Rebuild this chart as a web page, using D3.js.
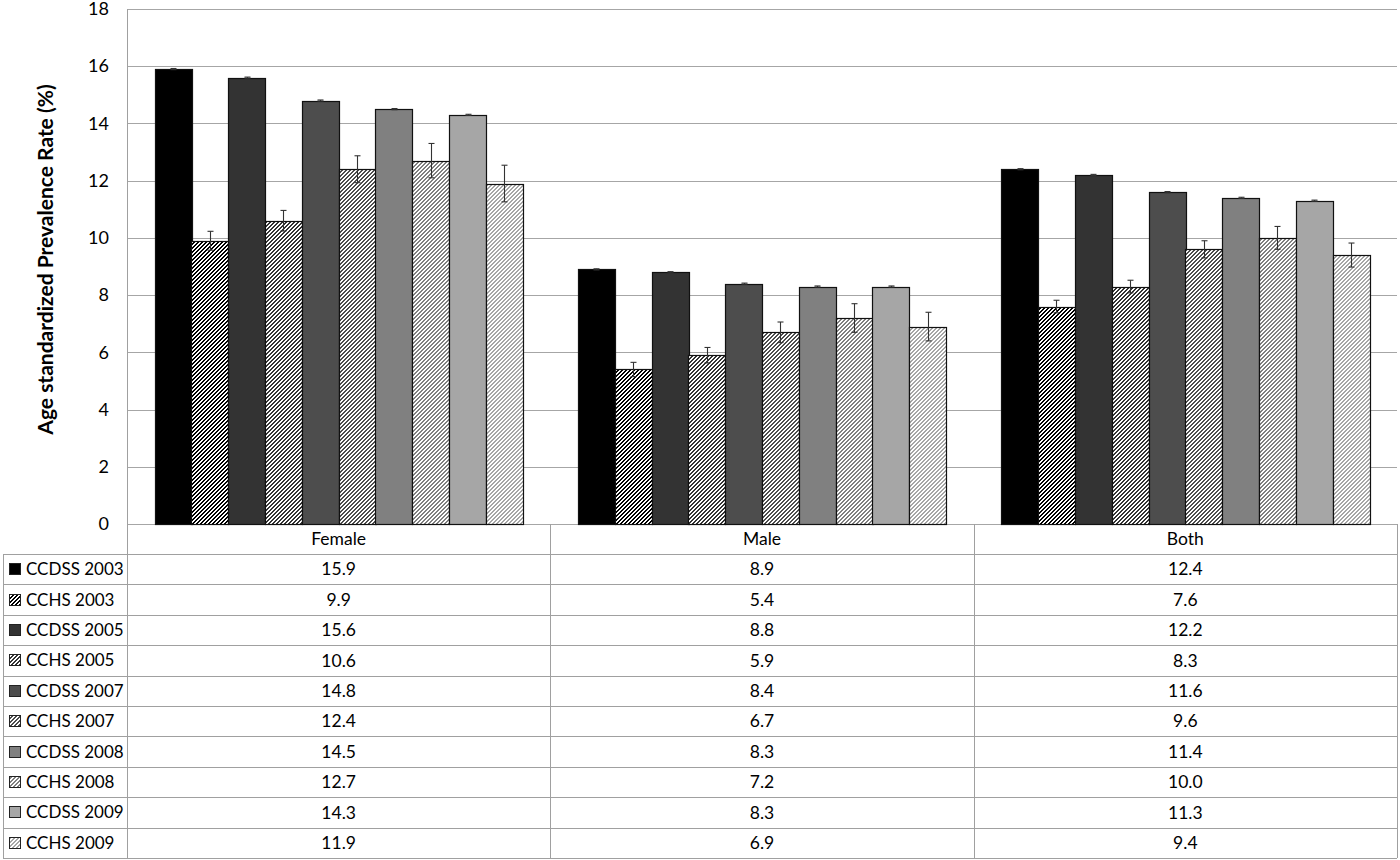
<!DOCTYPE html>
<html>
<head>
<meta charset="utf-8">
<script src="https://cdn.jsdelivr.net/npm/d3@7"></script>
<style>
  body { margin: 0; background: #fff; }
  text { font-family: Lato, "Open Sans", sans-serif; fill: #000; }
</style>
</head>
<body>
<div id="chart"></div>
<script>
// Chart data
const categories = ["Female", "Male", "Both"];
const seriesNames = ["CCDSS 2003", "CCHS 2003", "CCDSS 2005", "CCHS 2005", "CCDSS 2007",
                     "CCHS 2007", "CCDSS 2008", "CCHS 2008", "CCDSS 2009", "CCHS 2009"];
// one array per series: Female, Male, Both
const seriesValues = [
    [15.9, 8.9, 12.4],
    [9.9, 5.4, 7.6],
    [15.6, 8.8, 12.2],
    [10.6, 5.9, 8.3],
    [14.8, 8.4, 11.6],
    [12.4, 6.7, 9.6],
    [14.5, 8.3, 11.4],
    [12.7, 7.2, 10.0],
    [14.3, 8.3, 11.3],
    [11.9, 6.9, 9.4]
];
// half width of the error bars
const seriesErrors = [
    [0.02, 0.02, 0.02],
    [0.33, 0.25, 0.22],
    [0.02, 0.02, 0.02],
    [0.36, 0.27, 0.22],
    [0.02, 0.02, 0.02],
    [0.47, 0.36, 0.30],
    [0.02, 0.02, 0.02],
    [0.60, 0.50, 0.40],
    [0.02, 0.02, 0.02],
    [0.64, 0.50, 0.42]
];
const yTicks = [0, 2, 4, 6, 8, 10, 12, 14, 16, 18];
const yTitle = "Age standardized Prevalence Rate (%)";

// grey shade for each year, hatched for CCHS
const shades = ["#000000", "#000000", "#333333", "#333333", "#4d4d4d",
                "#4d4d4d", "#808080", "#808080", "#a6a6a6", "#a6a6a6"];

const W = 1400, H = 860;
const plotLeft = 127, plotRight = 1397, plotTop = 9, plotBottom = 524;
const tableLeft = 3, rowH = 30.4;
const headerBottom = 554;

const svg = d3.select("#chart").append("svg")
    .attr("width", W)
    .attr("height", H);

// hatch patterns, pixel diagonals like the spreadsheet fill
const defs = svg.append("defs");
seriesNames.forEach((s, i) => {
    if (i % 2 === 0) return;
    const p = defs.append("pattern")
        .attr("id", "hatch" + i)
        .attr("patternUnits", "userSpaceOnUse")
        .attr("width", 4)
        .attr("height", 4);
    p.append("rect").attr("width", 4).attr("height", 4).attr("fill", "#fff");
    const px = [[0, 3], [1, 3], [1, 2], [2, 2], [2, 1], [3, 1], [3, 0], [0, 0]];
    px.forEach(([a, b]) => {
        p.append("rect")
            .attr("x", a).attr("y", b)
            .attr("width", 1).attr("height", 1)
            .attr("fill", shades[i])
            .attr("shape-rendering", "crispEdges");
    });
});
const fillFor = i => i % 2 === 0 ? shades[i] : `url(#hatch${i})`;

// scales
const x0 = d3.scaleBand()
    .domain(categories)
    .range([plotLeft, plotRight])
    .padding(0);

const x1 = d3.scaleBand()
    .domain(seriesNames)
    .range([0, x0.bandwidth()])
    .paddingInner(0)
    .paddingOuter(0.75);

const y = d3.scaleLinear()
    .domain([0, 18])
    .range([plotBottom, plotTop]);

// gridlines
svg.append("g")
    .selectAll("line")
    .data(yTicks)
    .join("line")
    .attr("x1", plotLeft)
    .attr("x2", plotRight)
    .attr("y1", d => Math.round(y(d)) + 0.5)
    .attr("y2", d => Math.round(y(d)) + 0.5)
    .attr("stroke", "#a6a6a6")
    .attr("stroke-width", 1);

// y axis labels
const yAxis = svg.append("g")
    .attr("transform", `translate(${plotLeft},0)`)
    .call(d3.axisLeft(y).tickValues(yTicks).tickSize(0).tickPadding(18));
yAxis.select(".domain").remove();
yAxis.selectAll("text")
    .style("font-family", "Lato, 'Open Sans', sans-serif")
    .style("font-size", "18px")
    .attr("fill", "#000");

// y axis title
svg.append("text")
    .attr("text-anchor", "middle")
    .attr("transform", `translate(53,${(plotTop + plotBottom) / 2 - 7}) rotate(-90)`)
    .style("font-size", "21px")
    .style("font-weight", "bold")
    .text(yTitle);

// bars
const groups = svg.append("g")
    .selectAll("g")
    .data(seriesNames)
    .join("g")
    .attr("fill", (d, i) => fillFor(i));

groups.each(function (s, i) {
    d3.select(this).selectAll("rect")
        .data(categories.map((c, j) => ({c, v: seriesValues[i][j], e: seriesErrors[i][j]})))
        .join("rect")
        .attr("x", d => Math.round(x0(d.c) + x1(s)) + 0.5)
        .attr("y", d => Math.round(y(d.v)) + 0.5)
        .attr("width", Math.round(x1.bandwidth()))
        .attr("height", d => Math.round(y(0)) - Math.round(y(d.v)))
        .attr("stroke", "#111")
        .attr("stroke-width", 1.2);
});

// error bars
const errG = svg.append("g")
    .attr("stroke", "#333")
    .attr("stroke-width", 1.1);
seriesNames.forEach((s, i) => {
    categories.forEach((c, j) => {
        const cx = Math.round(x0(c) + x1(s) + x1.bandwidth() / 2) + 0.5;
        const v = seriesValues[i][j], e = seriesErrors[i][j];
        const yt = y(v + e), yb = y(v - e);
        errG.append("line").attr("x1", cx).attr("x2", cx).attr("y1", yt).attr("y2", yb);
        errG.append("line").attr("x1", cx - 3).attr("x2", cx + 3).attr("y1", yt).attr("y2", yt);
        errG.append("line").attr("x1", cx - 3).attr("x2", cx + 3).attr("y1", yb).attr("y2", yb);
    });
});

// data table
const tableG = svg.append("g");
const lineColor = "#a0a0a0";
const rowTop = i => headerBottom + i * rowH;
const tableBottom = rowTop(seriesNames.length);

// left axis line running through the table
tableG.append("line")
    .attr("x1", plotLeft + 0.5).attr("x2", plotLeft + 0.5)
    .attr("y1", plotTop).attr("y2", tableBottom)
    .attr("stroke", lineColor);

// column separators and right edge
categories.slice(1).concat([null]).forEach(c => {
    const xx = c === null ? plotRight : x0(c);
    tableG.append("line")
        .attr("x1", Math.round(xx) + 0.5).attr("x2", Math.round(xx) + 0.5)
        .attr("y1", plotBottom).attr("y2", tableBottom)
        .attr("stroke", lineColor);
});

// left edge of the legend column
tableG.append("line")
    .attr("x1", tableLeft + 0.5).attr("x2", tableLeft + 0.5)
    .attr("y1", headerBottom).attr("y2", tableBottom)
    .attr("stroke", lineColor);

// horizontal row lines
d3.range(seriesNames.length + 1).forEach(i => {
    tableG.append("line")
        .attr("x1", tableLeft).attr("x2", plotRight)
        .attr("y1", Math.round(rowTop(i)) + 0.5).attr("y2", Math.round(rowTop(i)) + 0.5)
        .attr("stroke", lineColor);
});

// header labels
tableG.selectAll(".hdr")
    .data(categories)
    .join("text")
    .attr("class", "hdr")
    .attr("x", d => x0(d) + x0.bandwidth() / 2)
    .attr("y", (plotBottom + headerBottom) / 2)
    .attr("dy", "0.35em")
    .attr("text-anchor", "middle")
    .style("font-size", "17.5px")
    .text(d => d);

// rows
seriesNames.forEach((s, i) => {
    const cy = rowTop(i) + rowH / 2;
    tableG.append("rect")
        .attr("x", 9.5).attr("y", Math.round(cy - 6) + 0.5)
        .attr("width", 11).attr("height", 11)
        .attr("fill", fillFor(i))
        .attr("stroke", "#222")
        .attr("stroke-width", 1);
    tableG.append("text")
        .attr("x", 26)
        .attr("y", cy)
        .attr("dy", "0.35em")
        .style("font-size", "17px")
        .text(s);
    categories.forEach((c, j) => {
        tableG.append("text")
            .attr("x", x0(c) + x0.bandwidth() / 2)
            .attr("y", cy)
            .attr("dy", "0.35em")
            .attr("text-anchor", "middle")
            .style("font-size", "17.5px")
            .text(seriesValues[i][j].toFixed(1));
    });
});
</script>
</body>
</html>
